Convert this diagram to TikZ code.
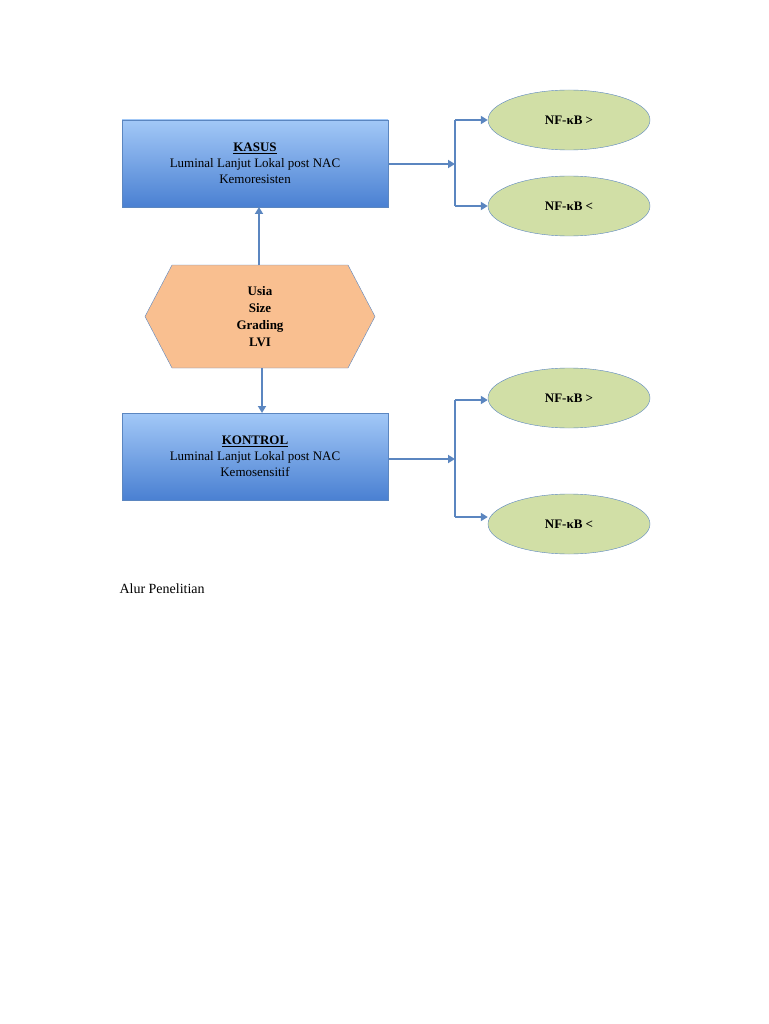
\documentclass[tikz,border=0pt]{standalone}
\usepackage{fontspec}
\setmainfont{Liberation Serif}
\usetikzlibrary{shapes.geometric,arrows.meta}
\definecolor{bord}{HTML}{5B86C0}
\definecolor{btop}{HTML}{A2C8F7}
\definecolor{bbot}{HTML}{4A80D2}
\definecolor{ell}{HTML}{D1DFA6}
\definecolor{hexf}{HTML}{F9BF90}
\begin{document}
\begin{tikzpicture}[x=1pt,y=1pt,
  box/.style={draw=bord,top color=btop,bottom color=bbot,minimum width=266pt,minimum height=87pt,align=center,font=\fontsize{13}{16}\selectfont,inner sep=0pt},
  oval/.style={ellipse,draw=bord,fill=ell,minimum width=162pt,minimum height=60pt,font=\bfseries\fontsize{13}{16}\selectfont,inner sep=0pt},
  arr/.style={draw=bord,line width=2pt,-{Triangle[length=7pt,width=8pt]}},
  ln/.style={draw=bord,line width=2pt}]
\useasboundingbox (0,0) rectangle (768,-1024);
\node[box] (kasus) at (255,-163.5) {\textbf{\underline{KASUS}}\\Luminal Lanjut Lokal post NAC\\Kemoresisten};
\node[box] (kontrol) at (255,-456.5) {\textbf{\underline{KONTROL}}\\Luminal Lanjut Lokal post NAC\\Kemosensitif};
\filldraw[draw=bord,fill=hexf] (145,-316.5) -- (172,-265) -- (348,-265) -- (375,-316.5) -- (348,-368) -- (172,-368) -- cycle;
\node[align=center,font=\bfseries\fontsize{13}{17}\selectfont,minimum width=230pt,minimum height=103pt] (hex) at (260,-316.5) {Usia\\Size\\Grading\\LVI};
\node[oval] (e1) at (569,-120) {NF-κB >};
\node[oval] (e2) at (569,-206) {NF-κB <};
\node[oval] (e3) at (569,-398) {NF-κB >};
\node[oval] (e4) at (569,-524) {NF-κB <};
\coordinate (j1) at (455,-164);
\coordinate (j2) at (455,-459);
\draw[arr] (kasus.east|-j1) -- (j1);
\draw[ln] (455,-120) -- (455,-206);
\draw[arr] (455,-120) -- (e1.west);
\draw[arr] (455,-206) -- (e2.west);
\draw[arr] (kontrol.east|-j2) -- (j2);
\draw[ln] (455,-400) -- (455,-517);
\draw[arr] (455,-400) -- (e3.west|-0,-400);
\draw[arr] (455,-517) -- (e4.west|-0,-517);
\draw[arr] (259,-265) -- (259,-207);
\draw[arr] (262,-368) -- (262,-413);
\node[anchor=west,font=\fontsize{14}{16}\selectfont] (cap) at (116,-589) {Alur Penelitian};
\end{tikzpicture}
\end{document}
